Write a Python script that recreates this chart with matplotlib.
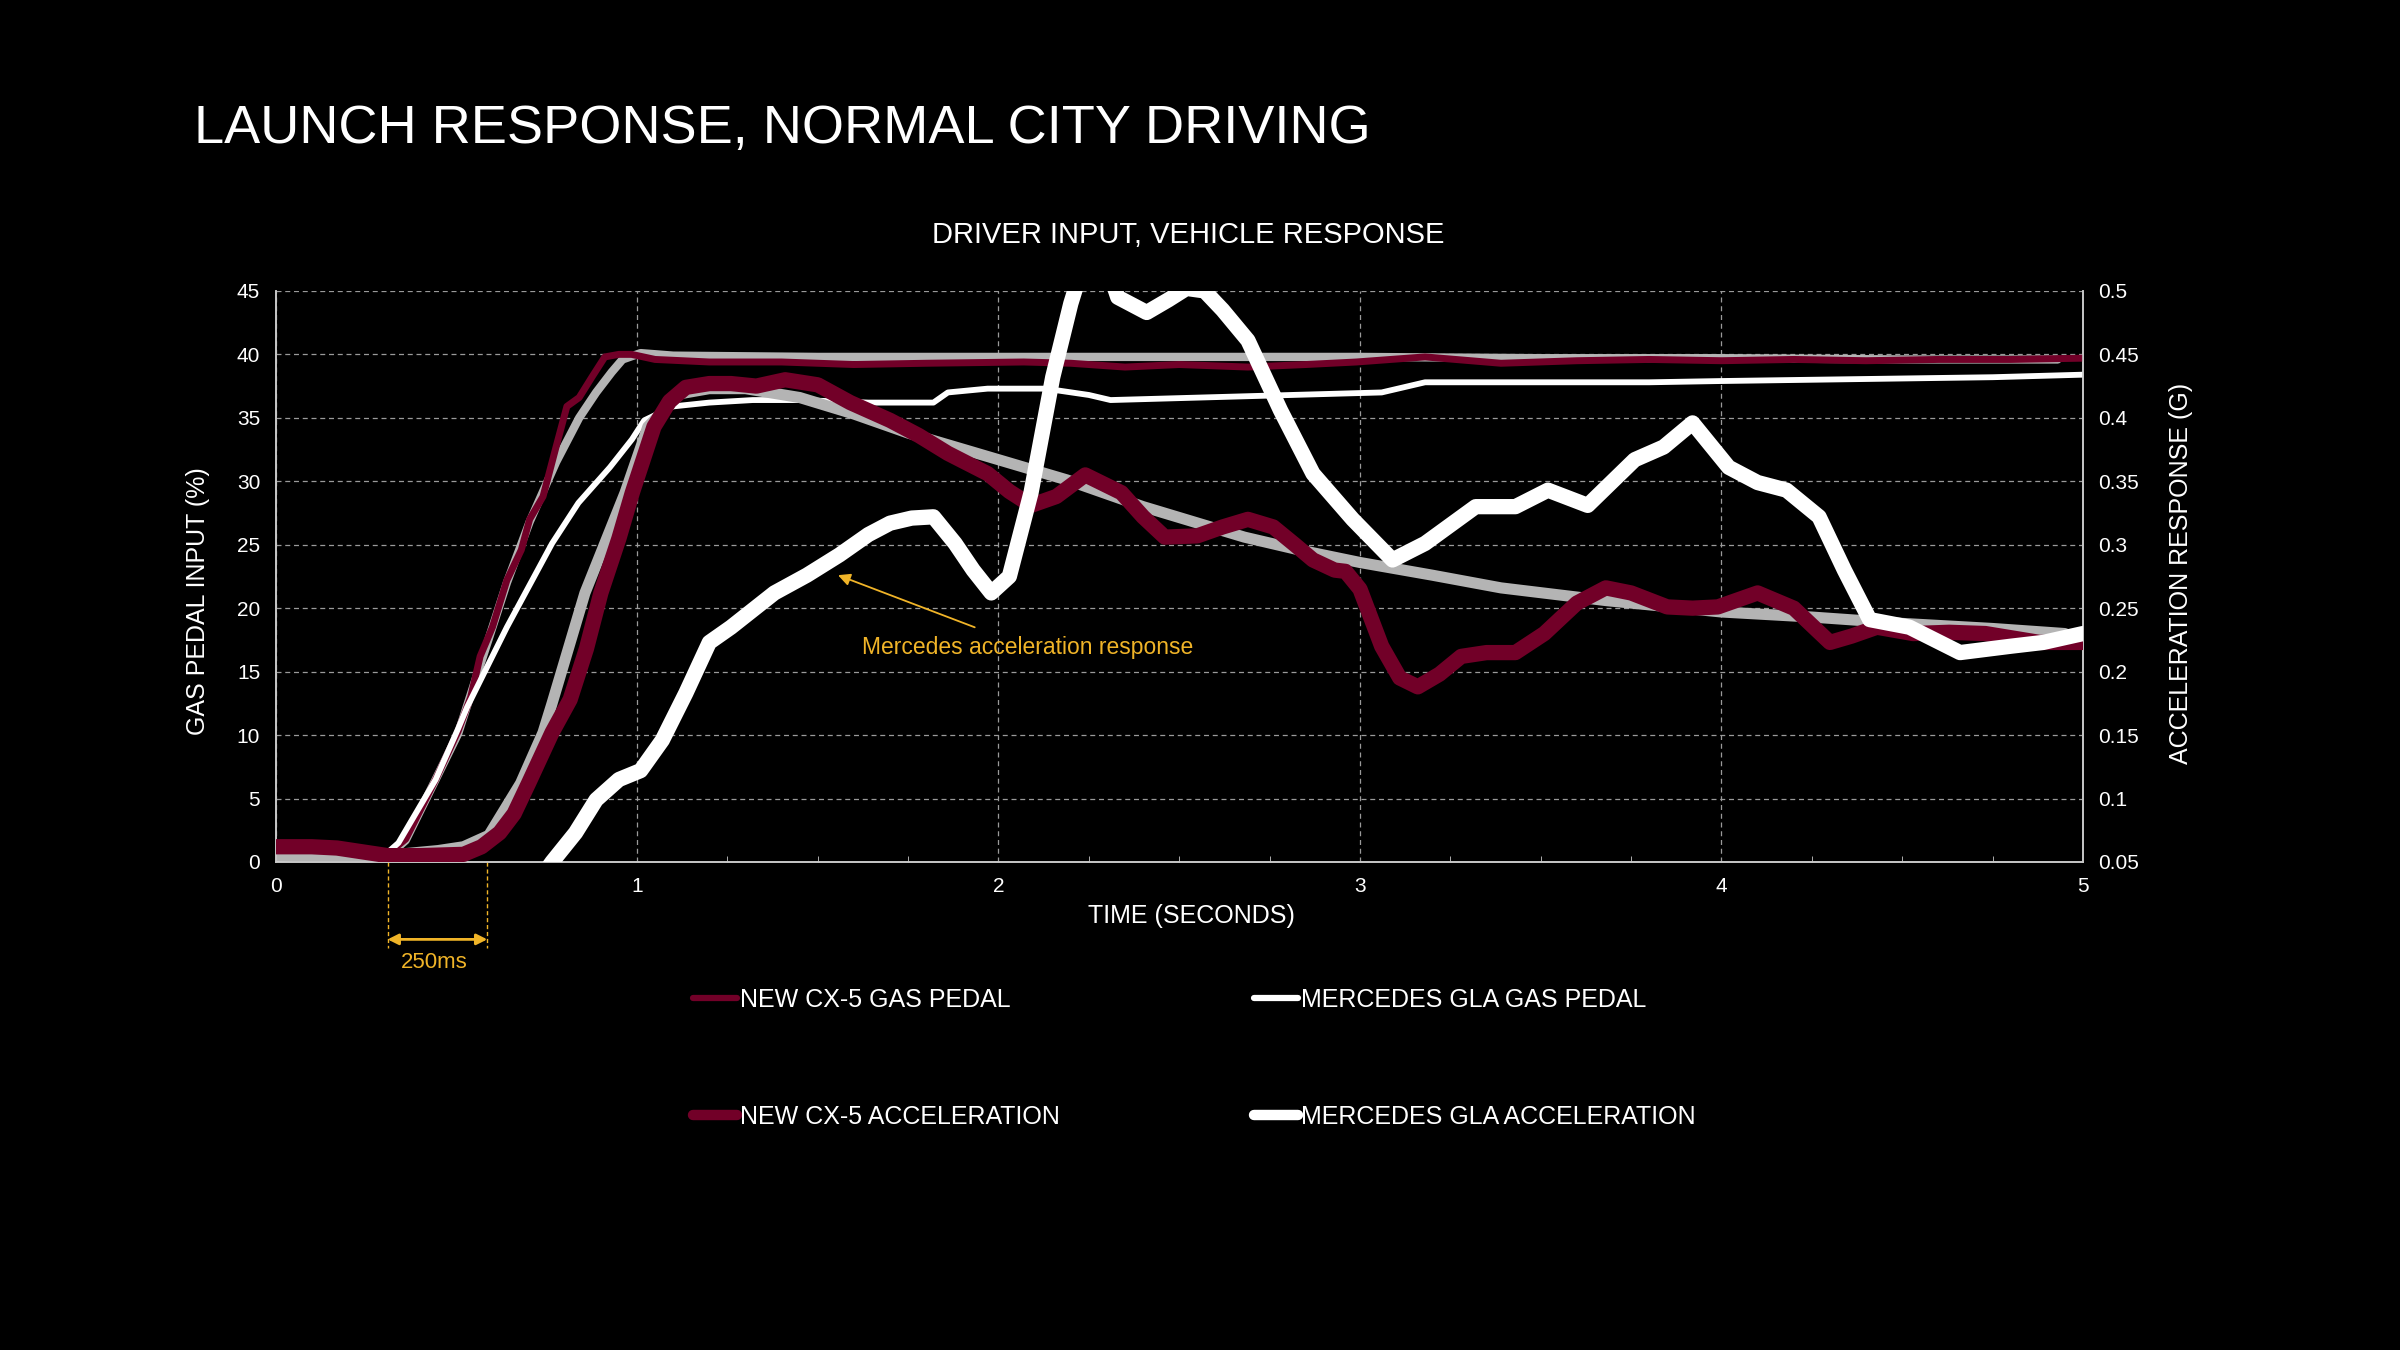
import numpy as np
import matplotlib
matplotlib.use("Agg")
import matplotlib.pyplot as plt
from matplotlib.ticker import MultipleLocator

# ---- data ----
# gas pedal input (%), left axis
cx5_pedal_t = [0, 0.15, 0.3, 0.36, 0.443, 0.505, 0.54, 0.566, 0.6, 0.64, 0.68, 0.703, 0.74, 0.776,
               0.806, 0.84, 0.875, 0.911, 0.95, 0.985, 1.05, 1.2, 1.4, 1.6, 1.8, 2.07, 2.2, 2.35,
               2.5, 2.69, 2.85, 2.99, 3.18, 3.39, 3.6, 3.8, 4.0, 4.2, 4.4, 4.6, 4.8, 5.0]
cx5_pedal = [0.3, 0.3, 0.4, 1.8, 6.5, 10.3, 13.0, 16.2, 18.5, 22.2, 24.6, 27.0, 28.8, 32.7,
             35.9, 36.6, 38.2, 39.8, 40.0, 40.0, 39.6, 39.4, 39.4, 39.2, 39.3, 39.4, 39.3, 39.0,
             39.2, 39.0, 39.2, 39.4, 39.8, 39.3, 39.5, 39.6, 39.5, 39.6, 39.5, 39.6, 39.6, 39.7]

gla_pedal_t = [0, 0.12, 0.22, 0.3, 0.34, 0.443, 0.505, 0.53, 0.64, 0.765, 0.838, 0.925, 0.986,
               1.02, 1.1, 1.2, 1.32, 1.45, 1.64, 1.82, 1.86, 1.97, 2.13, 2.25, 2.31, 2.56, 2.81,
               3.06, 3.18, 3.39, 3.6, 3.8, 4.0, 4.25, 4.5, 4.75, 5.0]
gla_pedal = [0.0, 0.2, 0.2, 0.5, 1.5, 6.5, 10.5, 12.2, 18.5, 25.1, 28.3, 31.1, 33.3,
             34.8, 35.9, 36.2, 36.4, 36.4, 36.2, 36.2, 37.0, 37.3, 37.3, 36.8, 36.4, 36.6, 36.8,
             37.0, 37.8, 37.8, 37.8, 37.8, 37.9, 38.0, 38.1, 38.2, 38.4]

old_pedal_t = [0, 0.1, 0.2, 0.28, 0.36, 0.443, 0.505, 0.566, 0.64, 0.703, 0.776, 0.84, 0.887,
               0.93, 0.96, 1.01, 1.1, 1.5, 2.0, 2.5, 3.0, 3.5, 4.0, 4.5, 4.93]
old_pedal = [0.5, 0.3, 0.0, -0.3, 1.7, 6.5, 10.1, 15.5, 22.0, 26.8, 31.5, 35.0, 37.0,
             38.6, 39.6, 40.1, 39.9, 39.8, 39.8, 39.8, 39.8, 39.7, 39.7, 39.6, 39.6]

# acceleration response (G), right axis
cx5_acc_t = [0, 0.1, 0.17, 0.24, 0.31, 0.4, 0.52, 0.57, 0.62, 0.66, 0.70, 0.765, 0.815, 0.86,
             0.90, 0.95, 0.987, 1.047, 1.09, 1.135, 1.2, 1.26, 1.33, 1.41, 1.5, 1.59, 1.70, 1.78,
             1.86, 1.97, 2.03, 2.09, 2.16, 2.24, 2.34, 2.40, 2.46, 2.55, 2.62, 2.69, 2.76, 2.82,
             2.87, 2.93, 2.96, 3.0, 3.06, 3.11, 3.16, 3.22, 3.28, 3.35, 3.43, 3.51, 3.60, 3.68,
             3.75, 3.85, 3.92, 3.99, 4.10, 4.20, 4.30, 4.36, 4.43, 4.53, 4.63, 4.73, 4.88, 5.0]
cx5_acc = [0.062, 0.062, 0.061, 0.058, 0.055, 0.055, 0.056, 0.062, 0.073, 0.088, 0.112, 0.152,
           0.178, 0.218, 0.262, 0.305, 0.341, 0.393, 0.413, 0.424, 0.427, 0.427, 0.425, 0.430,
           0.426, 0.412, 0.398, 0.386, 0.372, 0.356, 0.342, 0.331, 0.338, 0.355, 0.341, 0.322,
           0.306, 0.307, 0.314, 0.320, 0.314, 0.300, 0.288, 0.280, 0.279, 0.265, 0.220, 0.195,
           0.188, 0.198, 0.212, 0.215, 0.215, 0.230, 0.254, 0.266, 0.262, 0.251, 0.250, 0.251,
           0.262, 0.250, 0.223, 0.228, 0.235, 0.230, 0.231, 0.230, 0.223, 0.223]

gla_acc_t = [0.74, 0.765, 0.83, 0.887, 0.95, 1.01, 1.07, 1.135, 1.2, 1.26, 1.38, 1.47, 1.56,
             1.64, 1.7, 1.76, 1.82, 1.88, 1.93, 1.98, 2.03, 2.09, 2.15, 2.2, 2.265, 2.33, 2.41,
             2.47, 2.52, 2.57, 2.62, 2.69, 2.78, 2.87, 2.98, 3.09, 3.18, 3.32, 3.43, 3.52, 3.63,
             3.76, 3.84, 3.92, 4.02, 4.10, 4.18, 4.27, 4.34, 4.41, 4.52, 4.66, 4.80, 4.89, 5.0]
gla_acc = [0.040, 0.050, 0.073, 0.099, 0.115, 0.122, 0.146, 0.183, 0.223, 0.235, 0.262, 0.276,
           0.292, 0.308, 0.317, 0.321, 0.322, 0.301, 0.280, 0.262, 0.275, 0.341, 0.432, 0.490,
           0.550, 0.495, 0.483, 0.493, 0.502, 0.500, 0.485, 0.461, 0.406, 0.356, 0.320, 0.288,
           0.301, 0.330, 0.330, 0.343, 0.331, 0.367, 0.377, 0.396, 0.361, 0.349, 0.343, 0.322,
           0.280, 0.241, 0.235, 0.215, 0.220, 0.223, 0.230]

old_acc_t = [0, 0.15, 0.3, 0.45, 0.52, 0.59, 0.678, 0.74, 0.765, 0.856, 0.967, 1.03, 1.12, 1.2,
             1.3, 1.45, 1.6, 1.75, 2.0, 2.19, 2.4, 2.68, 2.83, 3.0, 3.2, 3.39, 3.68, 4.0, 4.25,
             4.5, 4.75, 4.95]
old_acc = [0.055, 0.053, 0.055, 0.059, 0.062, 0.071, 0.112, 0.152, 0.175, 0.262, 0.341, 0.393,
           0.419, 0.423, 0.423, 0.416, 0.403, 0.388, 0.367, 0.351, 0.330, 0.306, 0.296, 0.286,
           0.276, 0.266, 0.256, 0.247, 0.243, 0.238, 0.234, 0.230]

MAROON = "#720028"
GRAY = "#b4b4b4"
YELLOW = "#f0b428"
plt.rcParams["font.family"] = ["Liberation Sans", "DejaVu Sans"]

fig = plt.figure(figsize=(24, 13.5), dpi=100, facecolor="black")
ax = fig.add_axes([0.1148, 0.3615, 0.7531, 0.4230], facecolor="black")
ax2 = ax.twinx()

# grey reference curves
ax.plot(old_pedal_t, old_pedal, color=GRAY, lw=6, solid_capstyle="round",
        solid_joinstyle="round", zorder=2)
l1, = ax.plot(cx5_pedal_t, cx5_pedal, color=MAROON, lw=5, solid_capstyle="round",
              solid_joinstyle="round", zorder=3, label="NEW CX-5 GAS PEDAL")
l3, = ax.plot(gla_pedal_t, gla_pedal, color="white", lw=4.2, solid_capstyle="round",
              solid_joinstyle="round", zorder=4, label="MERCEDES GLA GAS PEDAL")

ax2.plot(old_acc_t, old_acc, color=GRAY, lw=8, solid_capstyle="round",
         solid_joinstyle="round", zorder=2)
l2, = ax2.plot(cx5_acc_t, cx5_acc, color=MAROON, lw=11, solid_capstyle="round",
               solid_joinstyle="round", zorder=3, label="NEW CX-5 ACCELERATION")
l4, = ax2.plot(gla_acc_t, gla_acc, color="white", lw=11, solid_capstyle="round",
               solid_joinstyle="round", zorder=4, label="MERCEDES GLA ACCELERATION")

ax.set_xlim(0, 5)
ax.set_ylim(0, 45)
ax2.set_ylim(0.05, 0.5)
ax.set_yticks(np.arange(0, 46, 5))
ax2.set_yticks(np.round(np.arange(0.05, 0.501, 0.05), 2))
ax2.set_yticklabels(["0.05", "0.1", "0.15", "0.2", "0.25", "0.3", "0.35", "0.4", "0.45", "0.5"])
ax.xaxis.set_major_locator(MultipleLocator(1))
ax.xaxis.set_minor_locator(MultipleLocator(0.25))

ax.grid(True, which="major", color="#9a9a9a", linestyle=(0, (4, 3)), linewidth=0.9)
ax.set_axisbelow(True)

for a in (ax, ax2):
    for s in a.spines.values():
        s.set_color("#c8c8c8")
        s.set_linewidth(1.2)
    a.spines["top"].set_visible(False)
ax.tick_params(axis="x", which="both", direction="in", colors="#c8c8c8", labelcolor="white",
               labelsize=15, pad=11)
ax.tick_params(axis="x", which="major", length=0)
ax.tick_params(axis="x", which="minor", length=4)
ax.tick_params(axis="y", length=0, labelcolor="white", labelsize=15, pad=11)
ax2.tick_params(axis="y", length=0, labelcolor="white", labelsize=15, pad=11)

# titles and axis labels
fig.text(0.0808, 0.894, "LAUNCH RESPONSE, NORMAL CITY DRIVING", color="white", fontsize=39,
         ha="left", va="baseline")
fig.text(0.495, 0.82, "DRIVER INPUT, VEHICLE RESPONSE", color="white", fontsize=21,
         ha="center", va="baseline")
fig.text(0.0823, 0.555, "GAS PEDAL INPUT (%)", color="white", fontsize=18, rotation=90,
         ha="center", va="center")
fig.text(0.9088, 0.575, "ACCELERATION RESPONSE (G)", color="white", fontsize=18, rotation=90,
         ha="center", va="center")
fig.text(0.4965, 0.3163, "TIME (SECONDS)", color="white", fontsize=18, ha="center",
         va="baseline")

# annotations
ax.annotate("Mercedes acceleration response", xy=(1.556, 22.6), xytext=(2.081, 16.9),
            color=YELLOW, fontsize=16.5, ha="center", va="center",
            arrowprops=dict(arrowstyle="-|>", color=YELLOW, lw=1.3, shrinkA=12, shrinkB=0,
                            mutation_scale=18))
for xv in (0.31, 0.586):
    ax.plot([xv, xv], [0, -6.8], color=YELLOW, lw=1, ls=(0, (3, 2)), clip_on=False, zorder=5)
ax.annotate("", xy=(0.31, -6.1), xytext=(0.586, -6.1), annotation_clip=False,
            arrowprops=dict(arrowstyle="<|-|>", color=YELLOW, lw=2, shrinkA=0, shrinkB=0,
                            mutation_scale=16))
ax.text(0.44, -7.9, "250ms", color=YELLOW, fontsize=16, ha="center", va="center",
        clip_on=False)

leg = fig.legend(handles=[l1, l2, l3, l4], ncol=2, loc="upper left",
                 bbox_to_anchor=(693 / 2400, 0.268), frameon=False, fontsize=18,
                 labelcolor="white", handlelength=1.76, handletextpad=0.1,
                 columnspacing=7.8, labelspacing=3.7, borderpad=0, borderaxespad=0)
for h, w in zip(leg.legend_handles, [4.5, 7.5, 4.5, 7.5]):
    h.set_linewidth(w)

fig.savefig("out.png", dpi=100, facecolor="black")
